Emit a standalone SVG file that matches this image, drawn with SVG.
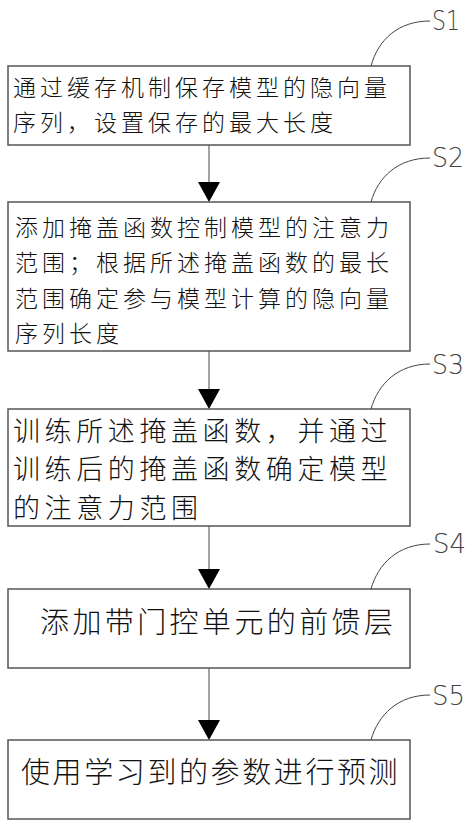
<svg xmlns="http://www.w3.org/2000/svg" width="474" height="827" viewBox="0 0 474 827">
<defs>
<style>
.box{fill:#fff;stroke:#555;stroke-width:1.5}
.t{font-family:"Noto Sans CJK SC","Noto Sans CJK TC",sans-serif;font-weight:300;fill:#111}
.a{font-size:23px;letter-spacing:4px}
.b{font-size:27px;letter-spacing:4.6px}
.c{font-size:29px}
.lab{font-family:"DejaVu Sans","Liberation Sans",sans-serif;font-weight:200;font-size:27px;fill:#444}
.lead{fill:none;stroke:#444;stroke-width:1}
.conn{stroke:#666;stroke-width:1.2;fill:none}
.head{fill:#000}
</style>
</defs>
<rect width="474" height="827" fill="#fff"/>
<g id="connectors">
<line class="conn" x1="209" y1="145" x2="209" y2="182"/>
<path class="head" d="M198,182 L220,182 L209,202 Z"/>
<line class="conn" x1="209" y1="351" x2="209" y2="389"/>
<path class="head" d="M198,389 L220,389 L209,409 Z"/>
<line class="conn" x1="209" y1="526" x2="209" y2="569"/>
<path class="head" d="M198,569 L220,569 L209,589 Z"/>
<line class="conn" x1="209" y1="668" x2="209" y2="720"/>
<path class="head" d="M198,720 L220,720 L209,740 Z"/>
</g>
<g id="S1">
<rect class="box" x="8" y="66" width="402" height="79"/>
<text class="t a" x="13" y="96">通过缓存机制保存模型的隐向量</text>
<text class="t a" x="13" y="131">序列，设置保存的最大长度</text>
<path class="lead" d="M371,66 C378,40 398,21 430,21"/>
<text class="lab" x="432" y="30" textLength="28" lengthAdjust="spacingAndGlyphs">S1</text>
</g>
<g id="S2">
<rect class="box" x="8" y="202" width="402" height="149"/>
<text class="t a" x="15" y="236">添加掩盖函数控制模型的注意力</text>
<text class="t a" x="15" y="271">范围；根据所述掩盖函数的最长</text>
<text class="t a" x="15" y="307">范围确定参与模型计算的隐向量</text>
<text class="t a" x="15" y="342">序列长度</text>
<path class="lead" d="M371,202 C378,177 398,158 430,158"/>
<text class="lab" x="432" y="167" textLength="32" lengthAdjust="spacingAndGlyphs">S2</text>
</g>
<g id="S3">
<rect class="box" x="8" y="409" width="402" height="117"/>
<text class="t b" x="13" y="441">训练所述掩盖函数，并通过</text>
<text class="t b" x="13" y="479">训练后的掩盖函数确定模型</text>
<text class="t b" x="13" y="518">的注意力范围</text>
<path class="lead" d="M371,409 C378,384 398,364 430,364"/>
<text class="lab" x="432" y="374" textLength="32" lengthAdjust="spacingAndGlyphs">S3</text>
</g>
<g id="S4">
<rect class="box" x="8" y="589" width="402" height="79"/>
<text class="t c" x="40" y="633" style="letter-spacing:3.4px">添加带门控单元的前馈层</text>
<path class="lead" d="M371,589 C378,564 398,544 430,544"/>
<text class="lab" x="433" y="553" textLength="33" lengthAdjust="spacingAndGlyphs">S4</text>
</g>
<g id="S5">
<rect class="box" x="8" y="740" width="402" height="79"/>
<text class="t c" x="21" y="783" style="letter-spacing:2.6px">使用学习到的参数进行预测</text>
<path class="lead" d="M371,740 C378,715 398,695 430,695"/>
<text class="lab" x="432" y="705" textLength="33" lengthAdjust="spacingAndGlyphs">S5</text>
</g>
</svg>
